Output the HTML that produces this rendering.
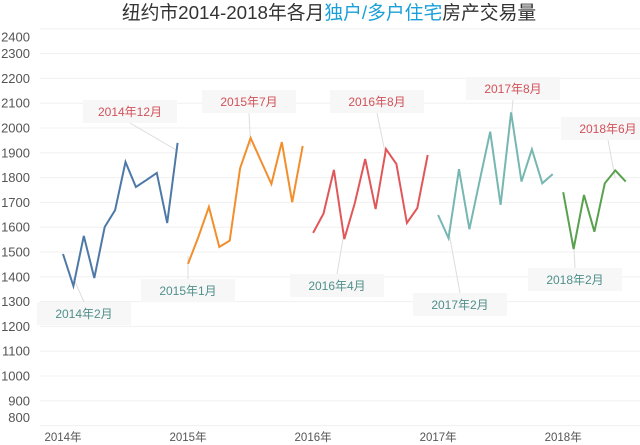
<!DOCTYPE html>
<html><head><meta charset="utf-8">
<style>
body{margin:0;background:#fff;}
svg{display:block;font-family:"Liberation Sans","Noto Sans CJK SC",sans-serif;}
</style></head>
<body>
<svg id="chart" width="640" height="445" viewBox="0 0 640 445">
<text x="329" y="19" text-anchor="middle" font-size="18.8" fill="#333">纽约市2014-2018年各月<tspan fill="#1a9fd9">独户/多户住宅</tspan>房产交易量</text>
<g id="grid"></g>
<g id="yaxis"></g>
<g id="xaxis"></g>
<g id="annos"></g>
<g id="series"></g>
</svg>
<script>
const years = ["2014年","2015年","2016年","2017年","2018年"];
const yTicks = [2400,2300,2200,2100,2000,1900,1800,1700,1600,1500,1400,1300,1200,1100,1000,900,800];
const colors = ["#4e79a7","#f28e2b","#e15759","#76b7b2","#59a14f"];
const v2014 = [1492,1363,1565,1395,1601,1669,1863,1762,1790,1819,1617,1940];
const v2015 = [1452,1562,1682,1520,1546,1838,1960,1867,1774,1943,1701,1928];
const v2016 = [1577,1655,1831,1552,1697,1875,1673,1915,1855,1617,1677,1891];
const v2017 = [1649,1556,1834,1592,1790,1985,1690,2063,1784,1914,1777,1814];
const v2018 = [1741,1512,1730,1582,1777,1829,1784];
const series = [v2014,v2015,v2016,v2017,v2018];
const annoLabels = ["2014年12月","2014年2月","2015年1月","2015年7月","2016年4月","2016年8月","2017年2月","2017年8月","2018年2月","2018年6月"];
const annoPoints = [[0,11],[0,1],[1,0],[1,6],[2,3],[2,7],[3,1],[3,7],[4,1],[4,5]];
const annoPeak = [true,false,false,true,false,true,false,true,false,true];
const annoBox = [[83,100],[37,302],[141,279],[202,90],[290,274],[330,90],[413,293],[466,77],[528,268],[561,117]];

const NS="http://www.w3.org/2000/svg";
const X0=63, MW=10.42, L=40, R=640;
function x(yi,m){return X0+(yi*12+m)*MW;}
function y(v){return 128+(2000-v)*0.248;}
function mk(t,a,p){const e=document.createElementNS(NS,t);for(const k in a)e.setAttribute(k,a[k]);p.appendChild(e);return e;}
const grid=document.getElementById('grid'), ya=document.getElementById('yaxis'), xa=document.getElementById('xaxis'), an=document.getElementById('annos'), se=document.getElementById('series');

yTicks.forEach((t,i)=>{
  const g=mk('line',{x1:L,x2:R,y1:y(t),y2:y(t),stroke:'#f0f0f0','stroke-width':1},grid);
  
  
  let ty=y(t)+4.5;
  if(i===0) ty+=8;
  if(i===yTicks.length-1) ty-=8;
  const tx=mk('text',{x:30,y:ty,'text-anchor':'end','font-size':13,fill:'#555'},ya);
  tx.textContent=t;
  
  
});
years.forEach((yr,i)=>{
  const tx=mk('text',{x:x(i,0),y:441,'text-anchor':'middle','font-size':11.5,fill:'#555'},xa);
  tx.textContent=yr;
  
  
});
annoLabels.forEach((lab,i)=>{
  const [yi,m]=annoPoints[i];
  const [bx,by]=annoBox[i];
  const px=x(yi,m), py=y(series[yi][m]);
  const cx=bx+47;
  const ly = annoPeak[i] ? by+23 : by;
  const dy = annoPeak[i] ? 8 : -8;
  const ln=mk('line',{x1:cx,y1:ly,x2:px,y2:py+dy,stroke:'#ddd','stroke-width':1},an);
  
  
  const r=mk('rect',{x:bx,y:by,width:94,height:23,fill:'#f7f7f7'},an);
  
  
  const t=mk('text',{x:cx,y:by+16,'text-anchor':'middle','font-size':12,fill:annoPeak[i]?'#d2515a':'#4f8f8a'},an);
  t.textContent=lab;
  
  
});
series.forEach((vals,yi)=>{
  const pts=vals.map((v,m)=>x(yi,m).toFixed(1)+','+y(v).toFixed(1)).join(' ');
  const pl=mk('polyline',{points:pts,fill:'none',stroke:colors[yi],'stroke-width':2,'stroke-linejoin':'miter'},se);
  
  
});
</script>
</body></html>
